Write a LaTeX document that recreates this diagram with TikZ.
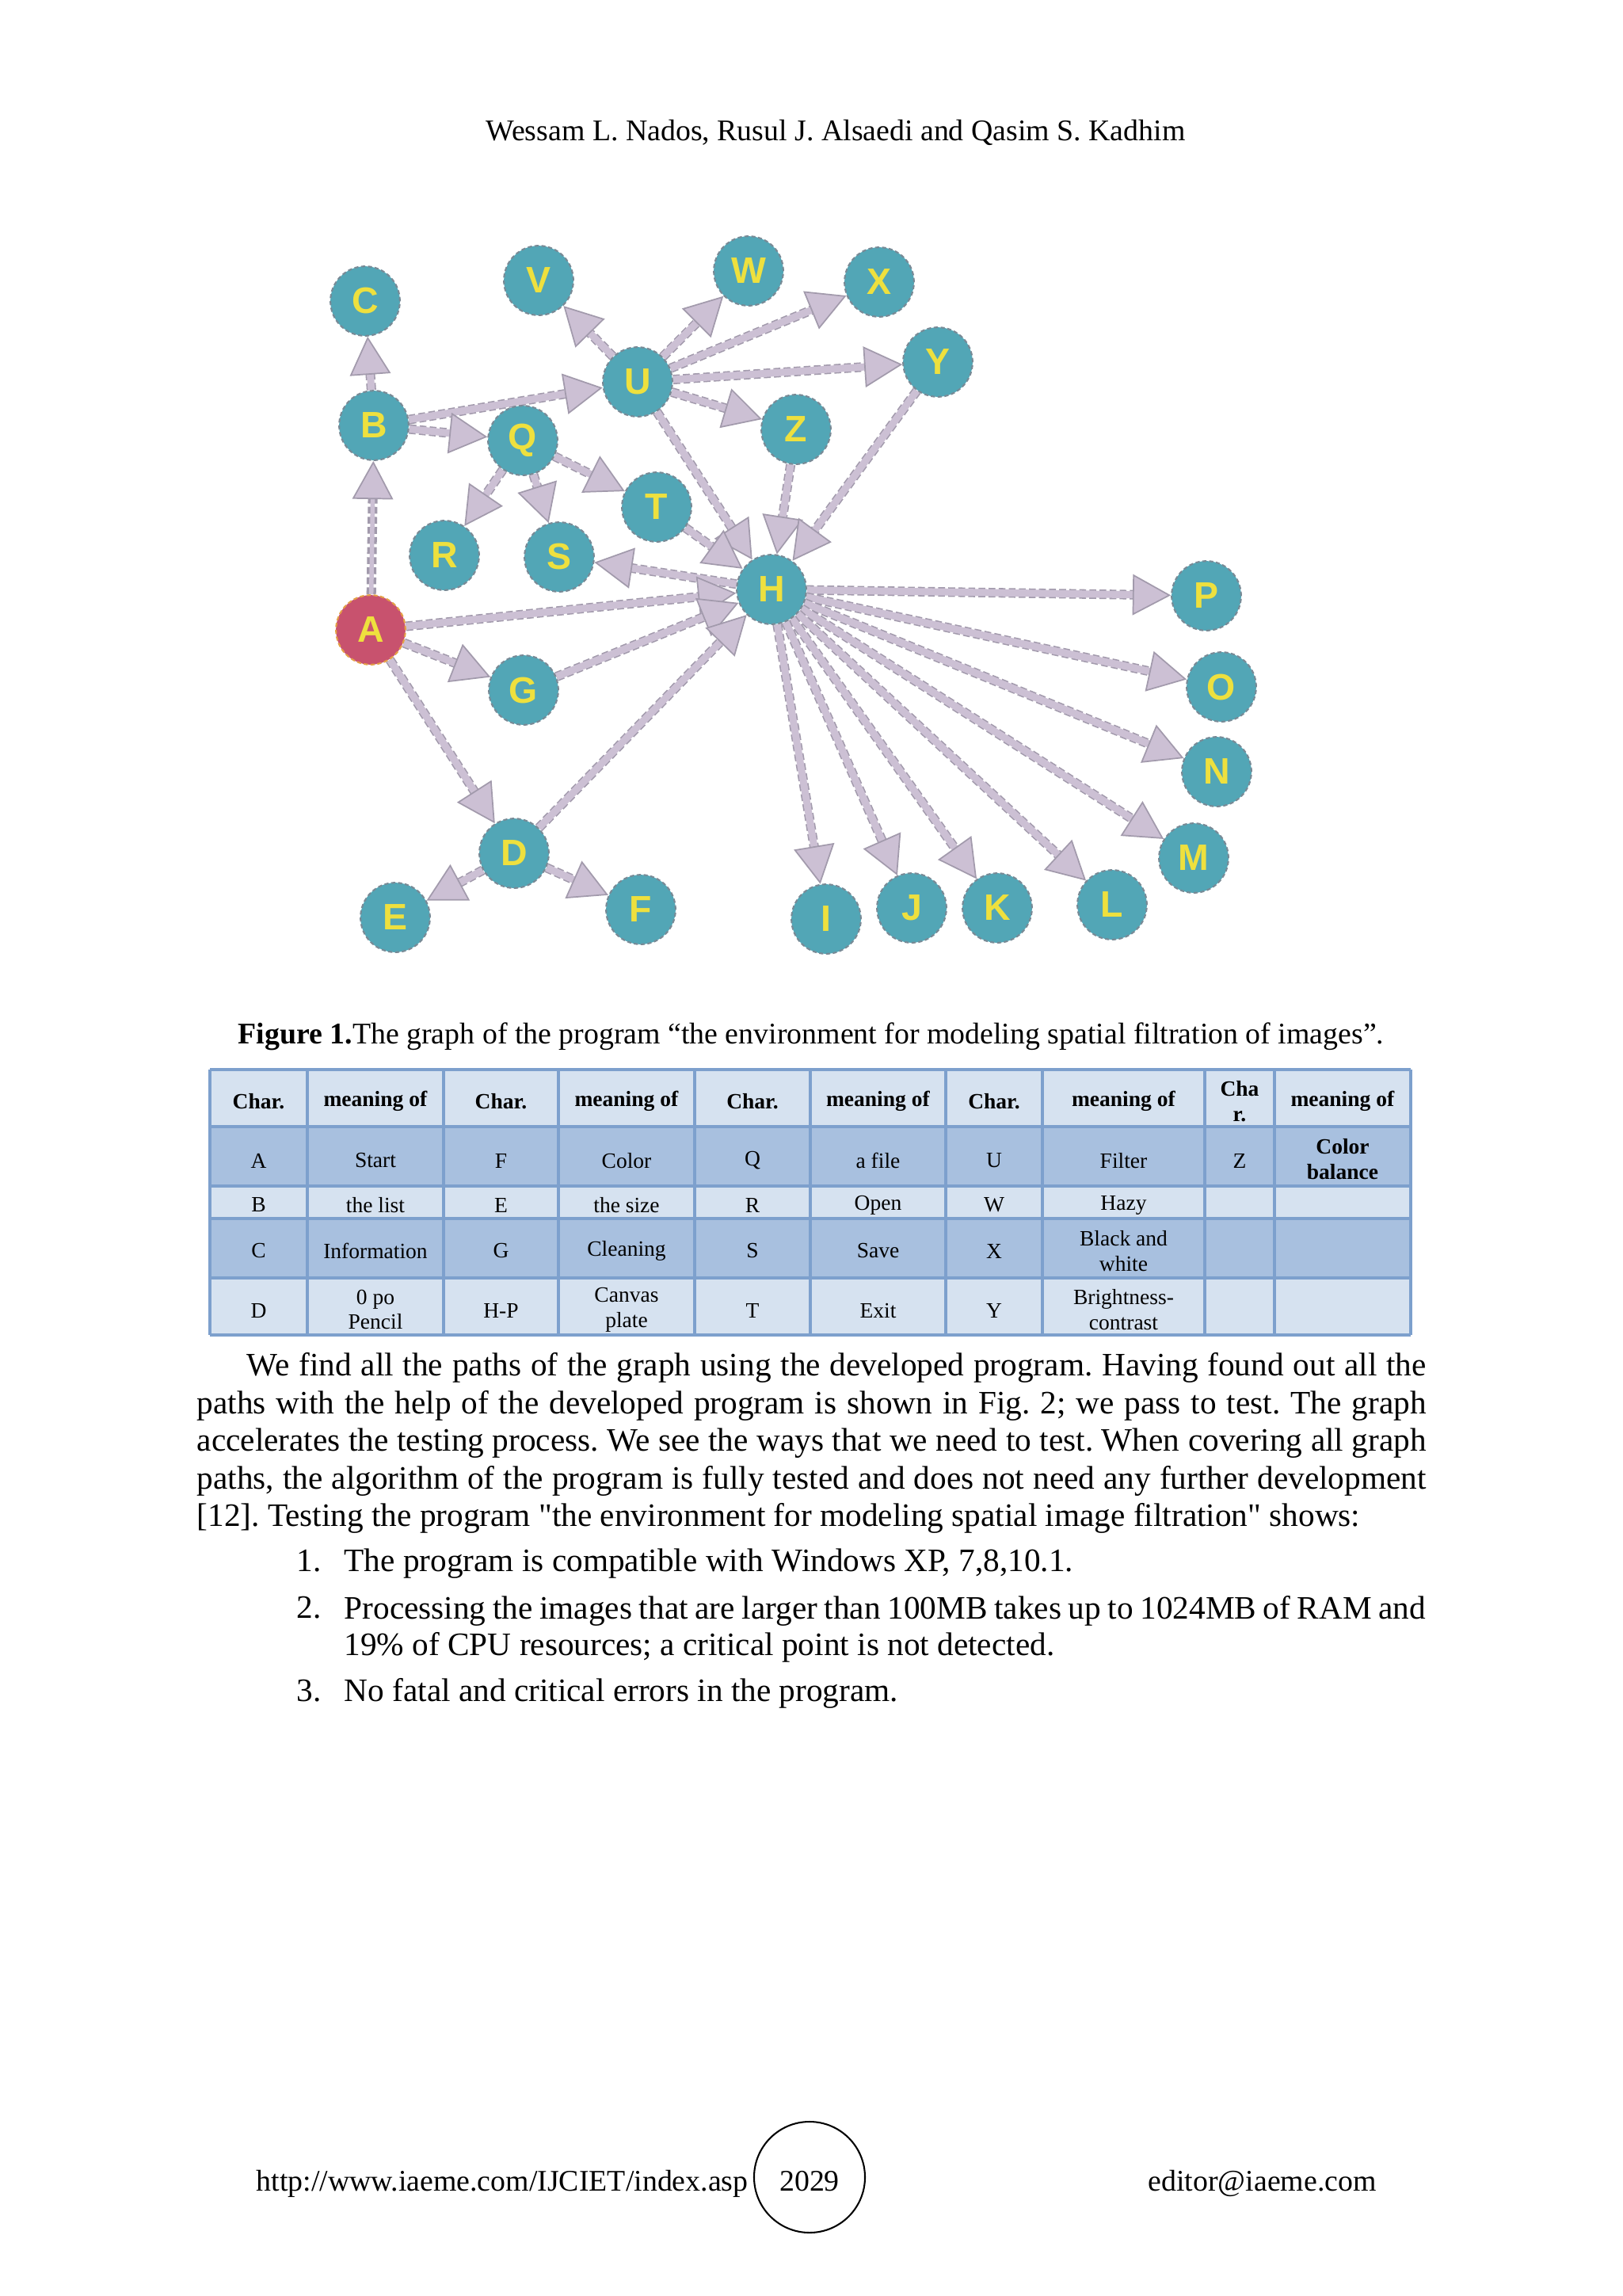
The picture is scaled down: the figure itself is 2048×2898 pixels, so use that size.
\documentclass[tikz,border=0pt]{standalone}
\usepackage{fontspec}
\setmainfont{Liberation Serif}
\newfontfamily\qfont{Liberation Serif}
\newfontfamily\gfont{Liberation Sans}
\usetikzlibrary{arrows.meta}
\pgfdeclarelayer{bg}
\pgfsetlayers{bg,main}
\definecolor{nodefill}{RGB}{82,166,182}
\definecolor{nodeline}{RGB}{120,138,150}
\definecolor{lettercol}{RGB}{238,224,62}
\definecolor{startfill}{RGB}{200,82,110}
\definecolor{startline}{RGB}{228,160,70}
\definecolor{lav}{RGB}{204,192,212}
\definecolor{lavline}{RGB}{162,154,172}
\definecolor{thead}{RGB}{214,226,240}
\definecolor{tdark}{RGB}{168,192,223}
\definecolor{tline}{RGB}{125,160,205}
\newcommand\tcell[4]{\node[tcellsty] (#1) at (#2,#3) {#4};}
\frenchspacing
\begin{document}
\frenchspacing
\begin{tikzpicture}[x=0.29066pt, y=-0.29066pt,
  gnode/.style={circle, minimum size=25.5pt, inner sep=0pt, fill=nodefill, draw=nodeline,
    line width=0.6pt, dash pattern=on 1.5pt off 1pt, text=lettercol,
    font=\gfont\bfseries\fontsize{13.5}{13.5}\selectfont},
  startnode/.style={gnode, fill=startfill, draw=startline},
  ed/.style={draw=lav, line width=2.6pt,
    -{Triangle[length=14pt,width=15pt,fill=lav,color=lavline,line width=0.5pt]},
    preaction={draw=lavline, line width=3.5pt, dash pattern=on 2.5pt off 1.2pt, arrows=-, shorten >=10pt}},
  tcellsty/.style={inner sep=0pt, align=center, font=\fontsize{8}{9.2}\selectfont},
  txt/.style={inner sep=0pt},
]
\begin{pgfonlayer}{bg}
\fill[white] (0,0) rectangle (2048,2898);
\end{pgfonlayer}
\useasboundingbox (0,0) rectangle (2048,2898);

% header
\node[txt, anchor=base, font=\fontsize{11}{13}\selectfont] (hdr) at (1055,177)
  {Wessam L. Nados, Rusul J. Alsaedi and Qasim S. Kadhim};

% graph nodes
\node[gnode] (C) at (461,380) {C};
\node[gnode] (V) at (680,354) {V};
\node[gnode] (W) at (945,342) {W};
\node[gnode] (X) at (1110,356) {X};
\node[gnode] (Y) at (1184,457) {Y};
\node[gnode] (U) at (805,482) {U};
\node[gnode] (B) at (472,537) {B};
\node[gnode] (Q) at (660,556) {Q};
\node[gnode] (Z) at (1005,542) {Z};
\node[gnode] (T) at (829,640) {T};
\node[gnode] (R) at (561,701) {R};
\node[gnode] (S) at (706,703) {S};
\node[gnode] (H) at (974,744) {H};
\node[startnode] (A) at (468,795) {A};
\node[gnode] (P) at (1523,752) {P};
\node[gnode] (G) at (661,871) {G};
\node[gnode] (O) at (1542,867) {O};
\node[gnode] (N) at (1536,974) {N};
\node[gnode] (M) at (1507,1083) {M};
\node[gnode] (D) at (649,1077) {D};
\node[gnode] (E) at (499,1158) {E};
\node[gnode] (F) at (809,1148) {F};
\node[gnode] (I) at (1043,1160) {I};
\node[gnode] (J) at (1151,1146) {J};
\node[gnode] (K) at (1259,1146) {K};
\node[gnode] (L) at (1404,1142) {L};

\begin{pgfonlayer}{bg}
\draw[ed, line width=1.6pt] (A) -- (B);
\draw[ed] (B) -- (C);
\draw[ed] (B) -- (U);
\draw[ed] (B) -- (Q);
\draw[ed] (Q) -- (R);
\draw[ed] (Q) -- (S);
\draw[ed] (Q) -- (T);
\draw[ed] (U) -- (V);
\draw[ed] (U) -- (W);
\draw[ed] (U) -- (X);
\draw[ed] (U) -- (Y);
\draw[ed] (U) -- (Z);
\draw[ed] (U) -- (H);
\draw[ed] (T) -- (H);
\draw[ed] (Z) -- (H);
\draw[ed] (Y) -- (H);
\draw[ed] (H) -- (S);
\draw[ed] (A) -- (H);
\draw[ed] (A) -- (G);
\draw[ed] (G) -- (H);
\draw[ed] (A) -- (D);
\draw[ed] (D) -- (H);
\draw[ed] (D) -- (E);
\draw[ed] (D) -- (F);
\draw[ed] (H) -- (P);
\draw[ed] (H) -- (O);
\draw[ed] (H) -- (N);
\draw[ed] (H) -- (M);
\draw[ed] (H) -- (L);
\draw[ed] (H) -- (K);
\draw[ed] (H) -- (J);
\draw[ed] (H) -- (I);
\end{pgfonlayer}

% caption
\node[txt, anchor=base, font=\fontsize{11}{13}\selectfont] (cap) at (1024,1317)
  {\textbf{Figure 1.}The graph of the program “the environment for modeling spatial filtration of images”.};

% table
\fill[thead] (265,1350) rectangle (1781,1422);
\fill[tdark] (265,1422) rectangle (1781,1497);
\fill[thead] (265,1497) rectangle (1781,1538);
\fill[tdark] (265,1538) rectangle (1781,1613);
\fill[thead] (265,1613) rectangle (1781,1685);
\foreach \xx in {265,388,560,705,877,1023,1194,1316,1521,1609,1781}
  \draw[tline, line width=0.9pt] (\xx,1350) -- (\xx,1685);
\foreach \yy in {1350,1422,1497,1538,1613,1685}
  \draw[tline, line width=1pt] (265,\yy) -- (1781,\yy);

\tcell{h1}{326.5}{1390}{\textbf{Char.}}
\tcell{h2}{474}{1390}{\textbf{meaning of}}
\tcell{h3}{632.5}{1390}{\textbf{Char.}}
\tcell{h4}{791}{1390}{\textbf{meaning of}}
\tcell{h5}{950}{1390}{\textbf{Char.}}
\tcell{h6}{1108.5}{1390}{\textbf{meaning of}}
\tcell{h7}{1255}{1390}{\textbf{Char.}}
\tcell{h8}{1418.5}{1390}{\textbf{meaning of}}
\tcell{h9}{1565}{1390}{\textbf{Cha}\\\textbf{r.}}
\tcell{h10}{1695}{1390}{\textbf{meaning of}}

\tcell{a1}{326.5}{1465}{A}
\tcell{a2}{474}{1465}{Start}
\tcell{a3}{632.5}{1465}{F}
\tcell{a4}{791}{1465}{Color}
\tcell{a5}{950}{1465}{Q}
\tcell{a6}{1108.5}{1465}{a file}
\tcell{a7}{1255}{1465}{U}
\tcell{a8}{1418.5}{1465}{Filter}
\tcell{a9}{1565}{1465}{Z}
\tcell{a10}{1695}{1463}{\textbf{Color}\\\textbf{balance}}

\tcell{b1}{326.5}{1521}{B}
\tcell{b2}{474}{1521}{the list}
\tcell{b3}{632.5}{1521}{E}
\tcell{b4}{791}{1521}{the size}
\tcell{b5}{950}{1521}{R}
\tcell{b6}{1108.5}{1521}{Open}
\tcell{b7}{1255}{1521}{W}
\tcell{b8}{1418.5}{1521}{Hazy}

\tcell{c1}{326.5}{1579}{C}
\tcell{c2}{474}{1579}{Information}
\tcell{c3}{632.5}{1579}{G}
\tcell{c4}{791}{1579}{Cleaning}
\tcell{c5}{950}{1579}{S}
\tcell{c6}{1108.5}{1579}{Save}
\tcell{c7}{1255}{1579}{X}
\tcell{c8}{1418.5}{1579}{Black and\\white}

\tcell{d1}{326.5}{1654}{D}
\tcell{d2}{474}{1653}{0 po\\Pencil}
\tcell{d3}{632.5}{1654}{H-P}
\tcell{d4}{791}{1653}{Canvas\\plate}
\tcell{d5}{950}{1654}{T}
\tcell{d6}{1108.5}{1654}{Exit}
\tcell{d7}{1255}{1654}{Y}
\tcell{d8}{1418.5}{1653}{Brightness-\\contrast}

% paragraph
\node[txt, anchor=north west, text width=451.1pt, align=justify, font=\fontsize{12}{13.8}\selectfont] (para) at (248,1707)
  {\frenchspacing\hspace*{18.3pt}We find all the paths of the graph using the developed program. Having found out all the\linebreak
  paths with the help of the developed program is shown in Fig. 2; we pass to test. The graph\linebreak
  accelerates the testing process. We see the ways that we need to test. When covering all graph\linebreak
  paths, the algorithm of the program is fully tested and does not need any further development\linebreak
  {}[12]. Testing the program {\qfont"}the environment for modeling spatial image filtration{\qfont"} shows:};

% list
\node[txt, anchor=base west, font=\fontsize{12}{13.8}\selectfont] (n1) at (374,1983) {1.};
\node[txt, anchor=base west, font=\fontsize{12}{13.8}\selectfont] (i1) at (434,1983) {The program is compatible with Windows XP, 7,8,10.1.};
\node[txt, anchor=base west, font=\fontsize{12}{13.8}\selectfont] (n2) at (374,2042) {2.};
\node[txt, anchor=north west, text width=396.9pt, align=justify, font=\fontsize{12}{13.4}\selectfont] (i2) at (434,2014)
  {\frenchspacing Processing the images that are larger than 100MB takes up to 1024MB of RAM and\linebreak
  19\% of CPU resources; a critical point is not detected.};
\node[txt, anchor=base west, font=\fontsize{12}{13.8}\selectfont] (n3) at (374,2147) {3.};
\node[txt, anchor=base west, font=\fontsize{12}{13.8}\selectfont] (i3) at (434,2147) {No fatal and critical errors in the program.};

% footer
\node[txt, anchor=base west, font=\fontsize{11}{13}\selectfont] (url) at (323,2765) {http://www.iaeme.com/IJCIET/index.asp};
\node[circle, draw=black, line width=0.6pt, minimum size=40.7pt, inner sep=0pt] (pg) at (1022,2748) {};
\node[txt, anchor=base, font=\fontsize{11}{13}\selectfont] (pgnum) at (1022,2765) {2029};
\node[txt, anchor=base west, font=\fontsize{11}{13}\selectfont] (mail) at (1449,2765) {editor@iaeme.com};
\end{tikzpicture}
\end{document}
